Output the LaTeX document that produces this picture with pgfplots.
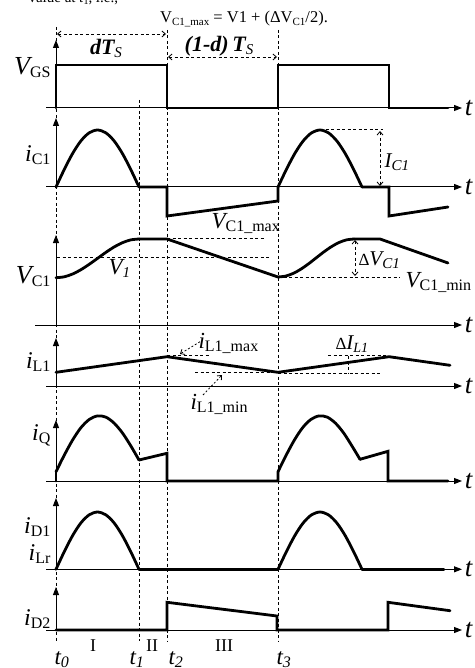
\documentclass[border=0pt]{standalone}
\usepackage{fontspec}
\setmainfont{Liberation Serif}
\usepackage{pgfplots}
\pgfplotsset{compat=1.18}
\usetikzlibrary{arrows.meta}
\newcommand{\sg}[5]{{\fontsize{#1}{#1}\selectfont #2}{\fontsize{#3}{#3}\selectfont\raisebox{-#5pt}{#4}}}
\newcommand{\tlab}{\fontsize{27}{27}\selectfont\itshape t}
\begin{document}
\begin{tikzpicture}
\begin{axis}[
  width=474pt, height=668pt, scale only axis,
  xmin=0, xmax=474, ymin=0, ymax=668, y dir=reverse,
  axis lines=none, clip=false,
  wave/.style={black, line width=2.8pt, line cap=round},
  wsm/.style={black, line width=2.8pt, line cap=round, smooth},
  ax/.style={black, line width=1pt, -{Triangle[length=8pt,width=6pt]}},
  dsh/.style={black, line width=0.8pt, dash pattern=on 3pt off 2.5pt},
  dim/.style={black, line width=0.8pt, dash pattern=on 3pt off 2.5pt, {Straight Barb[length=3.5pt,width=6pt]}-{Straight Barb[length=3.5pt,width=6pt]}},
  ptr/.style={black, line width=0.8pt, dash pattern=on 2pt off 2pt, -{Straight Barb[length=3.5pt,width=6pt]}},
]
% ---- dashed verticals
\addplot[dsh] coordinates {(56,27) (56,641)};
\addplot[dsh] coordinates {(139,100) (139,641)};
\addplot[dsh] coordinates {(167,30) (167,641)};
\addplot[dsh] coordinates {(278,30) (278,641)};
% ---- period arrows
\addplot[dim] coordinates {(57,34) (166,34)};
\addplot[dim] coordinates {(168,57) (277,57)};
% ---- axes
\addplot[ax] coordinates {(46,108) (462,108)};
\addplot[ax] coordinates {(56,108) (56,40)};
\addplot[ax] coordinates {(46,187) (462,187)};
\addplot[ax] coordinates {(56,187) (56,118)};
\addplot[ax] coordinates {(35,325) (462,325)};
\addplot[ax] coordinates {(56,325) (56,235)};
\addplot[ax] coordinates {(46,386) (462,386)};
\addplot[ax] coordinates {(56,386) (56,338)};
\addplot[ax] coordinates {(46,481) (462,481)};
\addplot[ax] coordinates {(56,481) (56,420)};
\addplot[ax] coordinates {(46,569.3) (462,569.3)};
\addplot[ax] coordinates {(56,569.3) (56,498)};
\addplot[ax] coordinates {(46,630) (462,630)};
\addplot[ax] coordinates {(56,630) (56,587)};
% ---- annotation dashes
\addplot[dsh] coordinates {(320,129.5) (383,129.5)};
\addplot[dim] coordinates {(380,131) (380,186)};
\addplot[dsh] coordinates {(57,257.7) (270,257.7)};
\addplot[dsh] coordinates {(167,238) (265,238)};
\addplot[dsh] coordinates {(278,277.5) (400,277.5)};
\addplot[dim] coordinates {(355,240) (355,276)};
\addplot[dsh] coordinates {(167,355.7) (210,355.7)};
\addplot[dsh] coordinates {(195,372.3) (277,372.3)};
\addplot[ptr] coordinates {(200,341.7) (180,354)};
\addplot[ptr] coordinates {(203,395) (222,375)};
\addplot[dsh] coordinates {(328,355.7) (388,355.7)};
\addplot[dsh] coordinates {(278,373.3) (380,373.3)};
\addplot[dsh] coordinates {(348,356) (348,373)};
% ---- V_GS
\addplot[wave] coordinates {(56,108) (56,65) (167,65) (167,108) (278,108) (278,65) (389,65) (389,108) (448,108)};
% ---- i_C1
\addplot[wsm] coordinates {(56,187) (64.3,169.4) (72.6,153.5) (80.9,140.9) (89.2,132.8) (97.5,130) (105.8,132.8) (114.1,140.9) (122.4,153.5) (130.7,169.4) (139,187)};
\addplot[wave] coordinates {(139,187) (167,187) (167,216) (278,201) (278,187)};
\addplot[wsm] coordinates {(278,187) (286.4,169.4) (294.8,153.5) (303.2,140.9) (311.6,132.8) (320,130) (328.4,132.8) (336.8,140.9) (345.2,153.5) (353.6,169.4) (362,187)};
\addplot[wave] coordinates {(362,187) (389,187) (389,216) (448,207)};
% ---- V_C1
\addplot[wsm] coordinates {(56,277.7) (64.3,276.8) (72.6,274.0) (80.9,269.7) (89.2,264.3) (97.5,258.4) (105.8,252.4) (114.1,247.0) (122.4,242.7) (130.7,239.9) (139,239)};
\addplot[wave] coordinates {(139,239) (167,239) (278,277)};
\addplot[wsm] coordinates {(278,277) (285.6,276.1) (293.2,273.4) (300.8,269.2) (308.4,263.9) (316,258) (323.6,252.1) (331.2,246.8) (338.8,242.6) (346.4,239.9) (354,239)};
\addplot[wave] coordinates {(354,239) (380,239) (448,263)};
% ---- i_L1
\addplot[wave] coordinates {(56,372.3) (167,356.7) (278,372.3) (389,356.7) (450,365.3)};
% ---- i_Q
\addplot[wave] coordinates {(56,481) (56,471.7)};
\addplot[wsm] coordinates {(56,471.7) (64.3,455.1) (72.6,440.0) (80.9,427.7) (89.2,419.5) (97.5,415.9) (105.8,417.1) (114.1,423.1) (122.4,432.9) (130.7,445.7) (139,460)};
\addplot[wave] coordinates {(139,460) (167,453.3) (167,481) (278,481) (278,471.7)};
\addplot[wsm] coordinates {(278,471.7) (286.2,455.1) (294.4,440.0) (302.6,427.7) (310.8,419.5) (319,415.9) (327.2,417.1) (335.4,423.1) (343.6,432.9) (351.8,445.7) (360,459.3)};
\addplot[wave] coordinates {(360,459.3) (388,451.3) (388,481) (448,481)};
% ---- i_D1 / i_Lr
\addplot[wsm] coordinates {(56,569.3) (64.3,551.6) (72.6,535.6) (80.9,522.9) (89.2,514.8) (97.5,512) (105.8,514.8) (114.1,522.9) (122.4,535.6) (130.7,551.6) (139,569.3)};
\addplot[wave] coordinates {(139,569.3) (278,569.3)};
\addplot[wsm] coordinates {(278,569.3) (286.4,551.6) (294.8,535.6) (303.2,522.9) (311.6,514.8) (320,512) (328.4,514.8) (336.8,522.9) (345.2,535.6) (353.6,551.6) (362,569.3)};
\addplot[wave] coordinates {(362,569.3) (444,569.3)};
% ---- i_D2
\addplot[wave] coordinates {(56,630) (167,630) (167,602.3) (277,616) (277,630) (388,630) (388,602.3) (450,610.7)};
% ---- t labels on axes
\node at (axis cs:468.5,108) {\tlab};
\node at (axis cs:468.5,187) {\tlab};
\node at (axis cs:468.5,325) {\tlab};
\node at (axis cs:468.5,386) {\tlab};
\node at (axis cs:468.5,481) {\tlab};
\node at (axis cs:468.5,569.3) {\tlab};
\node at (axis cs:468.5,630) {\tlab};
% ---- left labels
\node[anchor=base east] at (axis cs:54,75) {\sg{26}{\itshape V}{16}{GS}{3}};
\node[anchor=base east] at (axis cs:54,162) {\sg{24}{\itshape i}{16}{C1}{3}};
\node[anchor=base east] at (axis cs:54,283) {\sg{26}{\itshape V}{16}{C1}{3}};
\node[anchor=base east] at (axis cs:54,368) {\sg{24}{\itshape i}{16}{L1}{3}};
\node[anchor=base east] at (axis cs:54,440) {\sg{24}{\itshape i}{16}{Q}{3}};
\node[anchor=base east] at (axis cs:54,533) {\sg{24}{\itshape i}{16}{D1}{3}};
\node[anchor=base east] at (axis cs:54,560) {\sg{24}{\itshape i}{16}{Lr}{3}};
\node[anchor=base east] at (axis cs:54,625) {\sg{24}{\itshape i}{16}{D2}{3}};
% ---- annotation labels
\node[anchor=base west] at (axis cs:381,168) {\sg{21}{\itshape I}{15}{\itshape C1}{3}};
\node[anchor=base west] at (axis cs:208,228) {\sg{23}{\itshape V}{16}{C1\_max}{3}};
\node[anchor=base west] at (axis cs:105,274) {\sg{23}{\itshape V}{15}{\itshape 1}{3}};
\node[anchor=base west] at (axis cs:355,265) {{\fontsize{17}{17}\selectfont Δ}\sg{21}{\itshape V}{15}{\itshape C1}{3}};
\node[anchor=base west] at (axis cs:402,287) {\sg{23}{\itshape V}{16}{C1\_min}{3}};
\node[anchor=base west] at (axis cs:195,348) {\sg{23}{\itshape i}{16}{L1\_max}{3}};
\node[anchor=base west] at (axis cs:187,409) {\sg{23}{\itshape i}{16}{L1\_min}{3}};
\node[anchor=base west] at (axis cs:332,349) {{\fontsize{17}{17}\selectfont Δ}\sg{21}{\itshape I}{14}{\itshape L1}{3}};
% ---- period labels
\node at (axis cs:106,48) {{\fontsize{22}{22}\selectfont\bfseries\itshape dT}{\fontsize{15}{15}\selectfont\itshape\raisebox{-3pt}{S}}};
\node at (axis cs:219,46) {{\fontsize{22}{22}\selectfont\bfseries\itshape (1-d)\,T}{\fontsize{15}{15}\selectfont\itshape\raisebox{-3pt}{S}}};
% ---- title lines
\node[anchor=base west] at (axis cs:25,3) {\fontsize{15}{15}\selectfont value at {\itshape t}\raisebox{-2pt}{\fontsize{10}{10}\selectfont 1}, i.e.,};
\node at (axis cs:244,19) {\fontsize{16.5}{16.5}\selectfont V\raisebox{-2.5pt}{\fontsize{11}{11}\selectfont C1\_max} = V1 + (ΔV\raisebox{-2.5pt}{\fontsize{11}{11}\selectfont C1}/2).};
% ---- bottom labels
\node[anchor=base west] at (axis cs:51,664) {\sg{23}{\itshape t}{16}{\itshape 0}{3}};
\node[anchor=base west] at (axis cs:126,664) {\sg{23}{\itshape t}{16}{\itshape 1}{3}};
\node[anchor=base west] at (axis cs:165,664) {\sg{23}{\itshape t}{16}{\itshape 2}{3}};
\node[anchor=base west] at (axis cs:273,664) {\sg{23}{\itshape t}{16}{\itshape 3}{3}};
\node at (axis cs:93,646) {\fontsize{18}{18}\selectfont I};
\node at (axis cs:152,646) {\fontsize{18}{18}\selectfont II};
\node at (axis cs:224,646) {\fontsize{18}{18}\selectfont III};
\end{axis}
\pgfresetboundingbox
\useasboundingbox (current axis.south west) rectangle (current axis.north east);
\end{tikzpicture}
\end{document}
